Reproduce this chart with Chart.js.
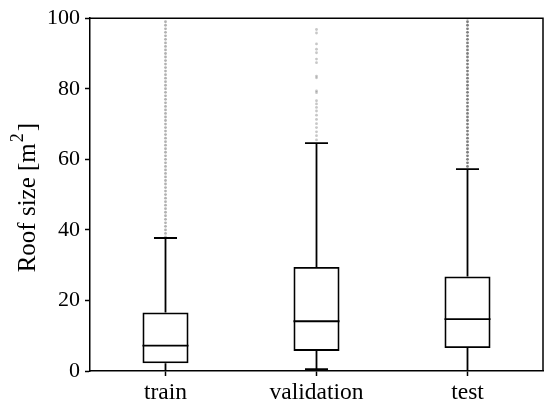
<!DOCTYPE html>
<html>
<head>
<meta charset="utf-8">
<script src="https://cdn.jsdelivr.net/npm/chart.js@4/dist/chart.umd.min.js"></script>
<style>
  html, body { margin: 0; padding: 0; background: #fff; }
  #wrap { width: 550px; height: 411px; }
</style>
</head>
<body>
<div id="wrap"><canvas id="roofChart"></canvas></div>
<script>
// box plot summary
const categories = ['train', 'validation', 'test'];
const q1 = [2.2, 5.7, 6.5];
const medians = [7.2, 14.1, 14.7];
const q3 = [16.6, 29.5, 26.8];
const whiskerLow = [0, 0.5, 0];
const whiskerHigh = [37.7, 64.6, 57.2];
const yTicks = [0, 20, 40, 60, 80, 100];

// outliers (dense columns for train / test, sparse for validation)
const trainFliers = [38, 39, 40, 41, 42, 43, 44, 45, 46, 47, 48, 49, 50, 51, 52, 53, 54, 55, 56, 57, 58, 59, 60,
    61, 62, 63, 64, 65, 66, 67, 68, 69, 70, 71, 72, 73, 74, 75, 76, 77, 78, 79, 80, 81, 82, 83, 84, 85, 86, 87,
    88, 89, 90, 91, 92, 93, 94, 95, 96, 97, 98, 99];
const validationFliers = [65.5, 66.7, 67.8, 69.0, 70.1, 71.3, 72.5, 73.7, 74.7, 75.7, 76.6, 78.9, 79.4,
    83.1, 83.6, 87.4, 88.4, 90.2, 91.2, 92.7, 95.8, 96.8];
const testFliers = [58, 59, 60, 61, 62, 63, 64, 65, 66, 67, 68, 69, 70, 71, 72, 73, 74, 75, 76, 77, 78, 79, 80,
    81, 82, 83, 84, 85, 86, 87, 88, 89, 90, 91, 92, 93, 94, 95, 96, 97, 98, 99, 100];

const serif = "'Liberation Serif', 'Times New Roman', serif";
const capFraction = 0.5; // cap width relative to box width

// whiskers, caps, medians and the top/right frame
const boxPlotPlugin = {
    id: 'boxPlot',
    afterDatasetsDraw(chart) {
        const ctx = chart.ctx;
        const x = chart.scales.x;
        const y = chart.scales.y;
        const a = chart.chartArea;
        const boxes = chart.getDatasetMeta(0).data;
        ctx.save();
        ctx.beginPath();
        ctx.rect(a.left, a.top, a.right - a.left, a.bottom - a.top);
        ctx.clip();
        ctx.strokeStyle = '#000';
        ctx.lineWidth = 1.8;
        const line = (x1, y1, x2, y2) => {
            ctx.beginPath();
            ctx.moveTo(x1, y1);
            ctx.lineTo(x2, y2);
            ctx.stroke();
        };
        categories.forEach((c, i) => {
            const cx = x.getPixelForValue(i);
            const half = boxes[i].width / 2;
            const capHalf = half * capFraction;
            line(cx, y.getPixelForValue(q3[i]), cx, y.getPixelForValue(whiskerHigh[i]));
            line(cx, y.getPixelForValue(q1[i]), cx, y.getPixelForValue(whiskerLow[i]));
            line(cx - capHalf, y.getPixelForValue(whiskerHigh[i]), cx + capHalf, y.getPixelForValue(whiskerHigh[i]));
            line(cx - capHalf, y.getPixelForValue(whiskerLow[i]), cx + capHalf, y.getPixelForValue(whiskerLow[i]));
            line(cx - half, y.getPixelForValue(medians[i]), cx + half, y.getPixelForValue(medians[i]));
        });
        ctx.restore();
        ctx.save();
        ctx.strokeStyle = '#000';
        ctx.lineWidth = 1.5;
        ctx.beginPath();
        ctx.moveTo(a.left, a.top);
        ctx.lineTo(a.right, a.top);
        ctx.lineTo(a.right, a.bottom);
        ctx.stroke();
        ctx.restore();
    }
};

// y axis title with a real superscript
const yTitlePlugin = {
    id: 'yTitle',
    afterDraw(chart) {
        const ctx = chart.ctx;
        const a = chart.chartArea;
        const big = '25px ' + serif;
        const small = '18px ' + serif;
        ctx.save();
        ctx.translate(28, (a.top + a.bottom) / 2 + 3);
        ctx.rotate(-Math.PI / 2);
        ctx.fillStyle = '#000';
        ctx.textBaseline = 'middle';
        ctx.textAlign = 'left';
        const main = 'Roof size [m';
        ctx.font = big;
        const w1 = ctx.measureText(main).width;
        const w3 = ctx.measureText(']').width;
        ctx.font = small;
        const w2 = ctx.measureText('2').width;
        const start = -(w1 + w2 + w3 + 3) / 2;
        ctx.font = big;
        ctx.fillText(main, start, 0);
        ctx.font = small;
        ctx.fillText('2', start + w1 + 1, -10);
        ctx.font = big;
        ctx.fillText(']', start + w1 + w2 + 3, 0);
        ctx.restore();
    }
};

const axisGrid = {
    display: true,
    drawOnChartArea: false,
    drawTicks: true,
    tickLength: 5,
    tickWidth: 1.5,
    color: '#000',
    offset: false
};

const flierStyle = {
    type: 'scatter',
    pointRadius: 1.4,
    pointBorderWidth: 0,
    pointBackgroundColor: 'rgba(0, 0, 0, 0.3)',
    pointHoverRadius: 1.4
};

new Chart(document.getElementById('roofChart'), {
    type: 'bar',
    data: {
        labels: categories,
        datasets: [
            {
                label: 'box',
                data: categories.map((c, i) => [q1[i], q3[i]]),
                backgroundColor: 'rgba(255, 255, 255, 0)',
                borderColor: '#000',
                borderWidth: 1.8,
                borderSkipped: false,
                barPercentage: 0.305,
                categoryPercentage: 1
            },
            { ...flierStyle, label: 'train outliers', data: trainFliers.map(v => ({ x: 'train', y: v })) },
            { ...flierStyle, label: 'validation outliers', data: validationFliers.map(v => ({ x: 'validation', y: v })),
              pointBackgroundColor: 'rgba(0, 0, 0, 0.22)' },
            { ...flierStyle, label: 'test outliers', data: testFliers.map(v => ({ x: 'test', y: v })),
              pointBackgroundColor: 'rgba(0, 0, 0, 0.5)' }
        ]
    },
    options: {
        responsive: true,
        maintainAspectRatio: false,
        animation: false,
        layout: { padding: { top: 17, right: 7, left: 0, bottom: 0 } },
        plugins: {
            legend: { display: false },
            tooltip: { enabled: false }
        },
        scales: {
            x: {
                type: 'category',
                offset: true,
                grid: axisGrid,
                border: { display: true, color: '#000', width: 1.5 },
                ticks: { color: '#000', font: { family: serif, size: 23.5 }, padding: 3 },
                afterFit(scale) { scale.height = 40; }
            },
            y: {
                min: 0,
                max: 100,
                grid: axisGrid,
                border: { display: true, color: '#000', width: 1.5 },
                ticks: {
                    color: '#000',
                    font: { family: serif, size: 22 },
                    padding: 5,
                    stepSize: 20,
                    callback: (v) => yTicks.includes(v) ? String(v) : ''
                },
                afterFit(scale) { scale.width = 90; }
            }
        }
    },
    plugins: [boxPlotPlugin, yTitlePlugin]
});
</script>
</body>
</html>
